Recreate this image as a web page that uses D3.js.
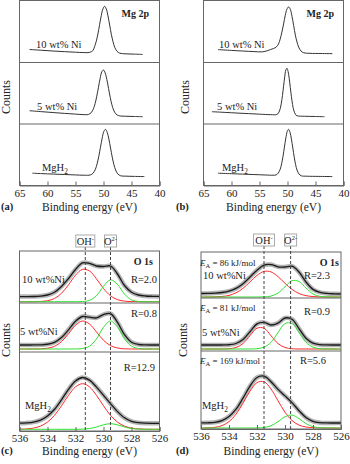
<!DOCTYPE html>
<html><head><meta charset="utf-8">
<script src="https://cdn.jsdelivr.net/npm/d3@7"></script>
<style>
body{margin:0;background:#fff}
svg{display:block}
text{font-family:"Liberation Serif","Times New Roman",serif;fill:#222}
</style>
</head><body>
<svg id="chart" width="350" height="464"></svg>
<script>
// ---------------- DATA ----------------
const mgTicks = [65, 60, 55, 50, 45, 40];
const oTicks = [536, 534, 532, 530, 528, 526];
const mgLabels = ["10 wt% Ni", "5 wt% Ni", "MgH2"];
const oLabels = ["10 wt%Ni", "5 wt%Ni", "MgH2"];
const rValuesC = ["R=2.0", "R=0.8", "R=12.9"];
const rValuesD = ["R=2.3", "R=0.9", "R=5.6"];
const eaValuesD = ["86", "81", "169"];

// Mg 2p spectra, [binding energy eV, counts (a.u.)]
const mgA10 = [[63.2,21],[61,19.7],[59,18.5],[57,17.5],[55,16.6],[53.5,16],[52.5,16.3],[51.9,19.2],[51.6,25.5],[51.3,34],[51.0,46],[50.7,61],[50.4,75.5],[50.1,86.5],[49.8,90.6],[49.5,86.3],[49.2,75.2],[48.9,60.5],[48.6,45.5],[48.3,33.5],[48.0,24.6],[47.6,18.2],[47.1,15],[46,14],[44.5,13.5],[43,13]];
const mgA5 = [[63.2,21.6],[61,20],[59,18.6],[57,17.3],[55,16.1],[53.5,15.2],[52.7,15.5],[52.2,18.4],[51.8,24.7],[51.5,33.2],[51.2,45.2],[50.9,59.8],[50.6,74.1],[50.3,85],[50.0,87.8],[49.7,83.1],[49.4,72.2],[49.1,57.9],[48.8,43.3],[48.5,31.3],[48.2,22.8],[47.8,16.5],[47.3,13.6],[46,12.6],[44.5,12.2],[43,11.9]];
const mgAH = [[62.7,20],[61,19.3],[59,18.6],[57,17.9],[55,17.2],[53.5,16.7],[52.34,17.2],[51.84,20.2],[51.44,26.6],[51.14,35.3],[50.84,47.5],[50.54,62.3],[50.24,76.9],[49.94,87.9],[49.64,91.3],[49.34,86.5],[49.04,75.5],[48.74,60.9],[48.44,46.1],[48.14,33.9],[47.84,25.2],[47.44,18.8],[46.94,15.8],[46,15.2],[44.5,14.8],[42.7,14.5]];
const mgB10 = [[62.4,20.8],[60,19.5],[58,18.5],[56,17.6],[54.5,17.2],[53.6,19],[53,21],[52.5,22.5],[52,25],[51.6,30],[51.3,38],[51.0,49],[50.7,62],[50.4,76],[50.1,86],[49.8,89.7],[49.5,85.8],[49.2,74.6],[48.9,59.7],[48.6,44.2],[48.3,32.9],[48.0,24.8],[47.6,18.6],[47.1,15.7],[46,14.8],[44,14.5],[42,14.3]];
const mgB5 = [[63.5,20],[61,18.8],[59,17.8],[57,16.9],[55,16],[53,15.2],[51.9,15.5],[51.6,18],[51.3,25],[51.1,33.9],[50.9,46.4],[50.7,61.5],[50.5,76.5],[50.3,87.7],[50.1,90.6],[49.9,85.6],[49.7,74.4],[49.5,59.4],[49.3,44.3],[49.1,31.8],[48.9,22.9],[48.6,15.9],[48.3,13.4],[47,12.6],[45,12.2],[43.4,11.9]];
const mgBH = [[62.4,20],[60,19.2],[58,18.5],[56,17.8],[54,17.1],[52.6,16.7],[52.05,17.2],[51.65,20.2],[51.3,26.6],[51.05,35.3],[50.8,47.5],[50.55,62.3],[50.3,76.9],[50.05,87.9],[49.8,91.3],[49.55,86.5],[49.3,75.5],[49.05,60.9],[48.8,46.1],[48.55,33.9],[48.3,25.2],[47.95,18.8],[47.55,15.8],[46.5,15.1],[44.5,14.8],[42,14.5]];

// O 1s spectra: common energy grid (eV) and counts (a.u.)
const oEnergy = [536,535.5,535,534.5,534,533.5,533,532.5,532,531.5,531,530.5,530,529.5,529,528.5,528,527.5,527,526.5,526];
const c10Env = [6.4,6.4,6.5,6.9,8,10.8,16.5,24.5,33.5,40.2,39.6,37,36.5,37,29,17.5,10.8,8,7,6.7,6.6];
const c10Red = [1.3,1.3,1.34,1.53,2.28,4.54,9.67,18.17,27.79,33.64,32.07,24.09,14.45,7.22,3.36,1.86,1.43,1.32,1.3,1.3,1.3];
const c10Green = [1.3,1.3,1.3,1.3,1.3,1.3,1.3,1.3,1.3,1.45,2.6,7.3,16.7,23.2,18.6,8.9,3.1,1.54,1.3,1.3,1.3];
const c5Env = [7,7,7.03,7.16,7.75,9.7,14.4,22.2,30.75,35.5,34.8,34.1,37.4,38.4,29.7,17.3,9.8,7.5,7.05,7,7];
const c5Red = [3,3,3.03,3.16,3.75,5.7,10.4,18.2,26.7,31,28,20,11.7,6.4,4,3.2,3,3,3,3,3];
const c5Green = [3,3,3,3,3,3,3,3,3.05,3.5,5.8,13.1,24.7,31,24.7,13.1,5.8,3.5,3.05,3,3];
const cHEnv = [7.8,8.1,8.9,10.9,14.9,21.7,31.2,41.6,50.1,53.5,50.9,43.9,35.7,27.3,19.4,13.2,9.7,8.3,7.8,7.7,7.7];
const cHRed = [1.81,2.1,2.9,4.9,8.9,15.7,25.2,35.6,44.1,47.3,44.1,35.6,25.2,15.7,8.9,4.9,2.9,2.1,1.81,1.73,1.7];
const cHGreen = [1.7,1.7,1.7,1.7,1.7,1.7,1.7,1.7,1.7,1.86,2.46,4.0,6.2,7.3,6.2,4.0,2.46,1.86,1.7,1.7,1.7];
const d10Env = [4.5,4.6,4.9,5.5,6.8,9.6,14.3,21,27.8,32.8,33.4,31.2,31,31.8,26,16,8.6,5.6,4.6,4.2,4];
const d10Red = [1,1.03,1.15,1.55,2.6,5.2,9.7,16.1,22.6,26.6,26.1,21.4,14.7,8.6,4.5,2.35,1.42,1.1,1,1,1];
const d10Green = [1,1,1,1,1,1,1,1,1,1.12,1.9,4.9,11.3,17.3,16.5,9.9,4.0,1.63,1.08,1,1];
const d5Env = [6,6,6,6.02,6.25,7.5,11.5,19.3,27.1,28.6,26,27.9,33,31.75,22.4,12.7,7.8,6.3,6.03,6,6];
const d5Red = [2,2,2,2.02,2.25,3.5,7.5,15.3,22.8,22.8,15.3,7.5,3.5,2.25,2.02,2,2,2,2,2,2];
const d5Green = [2,2,2,2,2,2,2,2.03,2.3,3.8,8.7,18.4,27.5,27.5,18.4,8.7,3.8,2.3,2.03,2,2];
const dHEnv = [6.04,6.2,6.73,8.4,12.4,19.8,30.8,42.9,51.5,52.8,47.3,39.6,33.1,26.4,18.3,11.4,7.56,6.32,6.03,6,6];
const dHRed = [1.04,1.2,1.73,3.4,7.4,14.8,25.8,37.9,46.4,47.3,40,28.3,16.8,8.5,3.9,2,1.26,1.06,1,1,1];
const dHGreen = [1,1,1,1,1,1,1,1,1.08,1.5,3.3,7.3,12.3,13.9,10.4,5.4,2.3,1.26,1.03,1,1];
const oPeakPos = {c: [531.3, 529.5], d: [531.5, 529.6]};

// ---------------- DRAWING ----------------
const svg = d3.select("#chart");
const FRAME = "#666";

function drawPanel(cfg) {
  const g = svg.append("g");
  const x = d3.scaleLinear().domain(cfg.xDomain).range(cfg.xRange);
  const ys = cfg.bounds;
  const [xl, xr] = cfg.xRange;
  cfg.subs.forEach((s, i) => {
    const y = d3.scaleLinear().domain(s.yDomain).range([ys[i+1], ys[i]]);
    s.draw(g, x, y, i);
  });
  g.append("rect").attr("x", xl).attr("y", ys[0]).attr("width", xr - xl).attr("height", ys[ys.length-1] - ys[0])
    .attr("fill", "none").attr("stroke", FRAME).attr("stroke-width", 1);
  for (let i = 1; i < ys.length - 1; i++) {
    g.append("line").attr("x1", xl).attr("x2", xr).attr("y1", ys[i]).attr("y2", ys[i])
      .attr("stroke", FRAME).attr("stroke-width", 1);
  }
  const ax = g.append("g").attr("transform", `translate(0,${ys[ys.length-1]})`)
    .call(d3.axisBottom(x).tickValues(cfg.ticks).tickSize(-4).tickPadding(cfg.pad).tickFormat(d3.format("d")));
  ax.select(".domain").attr("stroke", FRAME);
  ax.selectAll(".tick line").attr("stroke", FRAME);
  ax.selectAll("text").attr("font-family", "Liberation Serif").attr("font-size", 11).attr("fill", "#222");
  g.append("text").attr("x", (xl + xr) / 2).attr("y", cfg.titleY).attr("text-anchor", "middle")
    .attr("font-size", 11.5).text("Binding energy (eV)");
  g.append("text").attr("x", cfg.letterX).attr("y", cfg.titleY - 1).attr("font-family", "Liberation Sans, Arial, sans-serif")
    .attr("font-weight", "bold").attr("font-size", 10.5).attr("fill", "#111").text(cfg.letter);
  g.append("text").attr("transform", `translate(${cfg.countsX},${cfg.countsY}) rotate(-90)`)
    .attr("text-anchor", "middle").attr("font-size", 12).text("Counts");
  return {g, x};
}

function subLabel(g, text, xp, yp, size, color, anchor) {
  const t = g.append("text").attr("x", xp).attr("y", yp).attr("font-size", size).attr("fill", color || "#222")
    .attr("text-anchor", anchor || "start");
  if (text === "MgH2") { t.append("tspan").text("MgH"); t.append("tspan").attr("font-size", size * 0.7).attr("dy", 3).text("2"); }
  else t.text(text);
  return t;
}

function mgPanel(opts) {
  const line = (x, y) => d3.line().x(d => x(d[0])).y(d => y(d[1])).curve(d3.curveCatmullRom);
  drawPanel({
    xDomain: [65, 40], xRange: opts.xr, bounds: [0.5, 62.5, 124, 185.5], ticks: mgTicks, pad: 4,
    titleY: 211, letter: opts.letter, letterX: opts.letterX, countsX: opts.countsX, countsY: 97,
    subs: opts.data.map((d, i) => ({
      yDomain: [0, 100],
      draw: (g, x, y) => {
        g.append("path").datum(d).attr("d", line(x, y)).attr("fill", "none").attr("stroke", "#333").attr("stroke-width", 1);
        subLabel(g, mgLabels[i], opts.labelX[i], opts.labelY[i], 10.5);
      }
    }))
  });
  svg.append("text").attr("x", opts.mgX).attr("y", 17).attr("font-size", 10).attr("font-weight", "bold")
    .attr("text-anchor", "end").attr("fill", "#111").text("Mg 2p");
}

mgPanel({xr: [19.5, 159.5], data: [mgA10, mgA5, mgAH], letter: "(a)", letterX: 1, countsX: 10,
  labelX: [36, 37, 42], labelY: [48, 110, 171], mgX: 149});
mgPanel({xr: [203.5, 343.5], data: [mgB10, mgB5, mgBH], letter: "(b)", letterX: 176, countsX: 189,
  labelX: [219, 217, 222], labelY: [48, 110, 171], mgX: 334});

function oPanel(opts) {
  const mk = (x, y) => d3.line().x((d, i) => x(oEnergy[i])).y(d => y(d)).curve(d3.curveCatmullRom);
  const b = opts.bounds;
  const res = drawPanel({
    xDomain: [536, 526], xRange: opts.xr, bounds: b, ticks: oTicks, pad: 3,
    titleY: 455, letter: opts.letter, letterX: opts.letterX, countsX: opts.countsX, countsY: 340,
    subs: opts.series.map((s, i) => ({
      yDomain: [0, b[i+1] - b[i]],
      draw: (g, x, y) => {
        const l = mk(x, y);
        g.append("path").datum(s.env).attr("d", l).attr("fill", "none").attr("stroke", "#b4b4b4").attr("stroke-width", 4.5);
        g.append("path").datum(s.red).attr("d", l).attr("fill", "none").attr("stroke", "#ff2a2a").attr("stroke-width", 1);
        g.append("path").datum(s.green).attr("d", l).attr("fill", "none").attr("stroke", "#2fe02f").attr("stroke-width", 1);
        g.append("path").datum(s.env).attr("d", l).attr("fill", "none").attr("stroke", "#1a1a1a").attr("stroke-width", 1.3);
      }
    }))
  });
  const x = res.x;
  const names = [["OH", "-"], ["O", "2-"]];
  opts.peaks.forEach((p, k) => {
    svg.append("line").attr("x1", x(p)).attr("x2", x(p)).attr("y1", opts.boxY + 12).attr("y2", b[3])
      .attr("stroke", "#444").attr("stroke-width", 1).attr("stroke-dasharray", "3,2");
    const w = opts.boxW[k];
    svg.append("rect").attr("x", x(p) - w / 2).attr("y", opts.boxY).attr("width", w).attr("height", 12)
      .attr("fill", "#fff").attr("stroke", "#aaa").attr("stroke-width", 1);
    const t = svg.append("text").attr("x", x(p)).attr("y", opts.boxY + 10).attr("text-anchor", "middle").attr("font-size", 10.5);
    t.append("tspan").text(names[k][0]);
    t.append("tspan").attr("font-size", 6.5).attr("dy", -4).text(names[k][1]);
  });
  svg.append("text").attr("x", opts.o1sX).attr("y", b[0] + 14).attr("text-anchor", "end").attr("font-size", 10)
    .attr("font-weight", "bold").attr("fill", "#111").text("O 1s");
  opts.labels.forEach((l, i) => subLabel(svg, oLabels[i], l[0], l[1], 10.5));
  opts.rPos.forEach((r, i) => subLabel(svg, opts.rValues[i], r[0], r[1], 10.5, "#3b3bff", "end"));
  if (opts.ea) {
    opts.ea.forEach((e, i) => {
      const t = svg.append("text").attr("x", e[0]).attr("y", e[1]).attr("font-size", 9).attr("fill", "#ff3b3b");
      t.append("tspan").attr("font-style", "italic").text("E");
      t.append("tspan").attr("font-size", 6.5).attr("dy", 2).text("A");
      t.append("tspan").attr("dy", -2).text(" = " + eaValuesD[i] + " kJ/mol");
    });
  }
}

oPanel({xr: [19.5, 159.5], bounds: [251, 303, 352, 431], letter: "(c)", letterX: 1, countsX: 10,
  series: [{env: c10Env, red: c10Red, green: c10Green}, {env: c5Env, red: c5Red, green: c5Green}, {env: cHEnv, red: cHRed, green: cHGreen}],
  peaks: oPeakPos.c, boxY: 235, boxW: [19, 12], o1sX: 153,
  labels: [[22, 283], [20, 335], [25, 409]], rPos: [[157, 283], [157, 317], [155, 371]], rValues: rValuesC});
oPanel({xr: [201, 341], bounds: [252, 298, 351, 429], letter: "(d)", letterX: 176, countsX: 187,
  series: [{env: d10Env, red: d10Red, green: d10Green}, {env: d5Env, red: d5Red, green: d5Green}, {env: dHEnv, red: dHRed, green: dHGreen}],
  peaks: oPeakPos.d, boxY: 234, boxW: [21, 12], o1sX: 339,
  labels: [[203, 279], [202, 336], [202, 409]], rPos: [[330, 279], [330, 315], [326, 364]], rValues: rValuesD,
  ea: [[200, 266], [200, 311], [200, 364]]});
</script>
</body></html>
